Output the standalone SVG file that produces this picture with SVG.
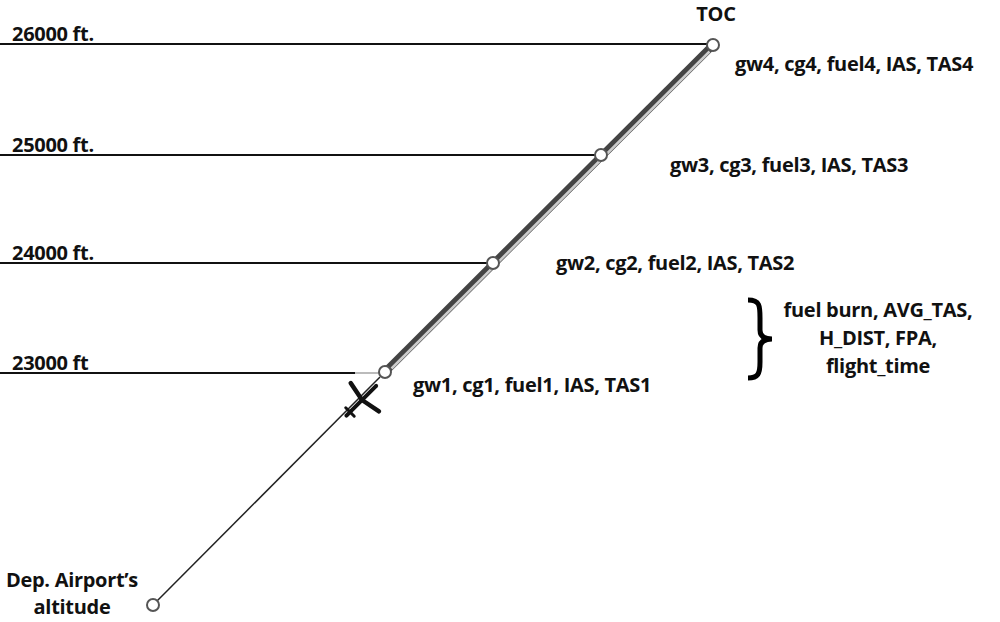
<svg xmlns="http://www.w3.org/2000/svg" width="1000" height="622" viewBox="0 0 1000 622">
<defs>
<style>
text{font-family:"Open Sans","Liberation Sans",sans-serif;font-weight:bold;font-size:20px;fill:#111;letter-spacing:-0.3px}
.h{stroke:#111;stroke-width:1.8}
.n{fill:#fff;stroke:#555;stroke-width:2}
.t{stroke:#444;stroke-width:8}
.hl{stroke:#ccc;stroke-width:2.5}
</style>
</defs>
<rect width="1000" height="622" fill="#fff"/>
<g id="connectors">
<line class="h" x1="0" y1="44" x2="707" y2="44"/>
<line class="h" x1="0" y1="155" x2="595" y2="155"/>
<line class="h" x1="0" y1="263" x2="487" y2="263"/>
<line class="h" x1="0" y1="373" x2="355" y2="373"/>
<line x1="355" y1="373" x2="380" y2="373" stroke="#bbb" stroke-width="2"/>
<line x1="157" y1="601" x2="380" y2="377" stroke="#222" stroke-width="1.5"/>
<line class="t" x1="388" y1="369" x2="710" y2="48"/>
<line class="hl" x1="390" y1="367" x2="708" y2="50" transform="translate(1.5,1.5)"/>
</g>
<g id="node-dep"><circle class="n" cx="153" cy="605" r="6"/></g>
<g id="node-23000"><circle class="n" cx="385" cy="372" r="6"/></g>
<g id="node-24000"><circle class="n" cx="493" cy="263" r="6"/></g>
<g id="node-25000"><circle class="n" cx="601" cy="155" r="6"/></g>
<g id="node-toc"><circle class="n" cx="713" cy="45" r="6"/></g>
<g id="airplane" transform="translate(362,400) rotate(-45)" fill="#111" stroke="#111" stroke-linecap="round">
<line x1="-22" y1="0" x2="20" y2="0" stroke-width="4"/>
<path d="M4,-20 L0,0 L4,20" fill="none" stroke-width="4.5"/>
<line x1="-17" y1="-6" x2="-17" y2="6" stroke-width="3"/>
</g>
<g id="labels">
<text x="12" y="41">26000 ft.</text>
<text x="12" y="152">25000 ft.</text>
<text x="12" y="260">24000 ft.</text>
<text x="12" y="370">23000 ft</text>
<text x="716" y="21" text-anchor="middle">TOC</text>
<text x="735" y="71">gw4, cg4, fuel4, IAS, TAS4</text>
<text x="670" y="172">gw3, cg3, fuel3, IAS, TAS3</text>
<text x="556" y="270">gw2, cg2, fuel2, IAS, TAS2</text>
<text x="413" y="392">gw1, cg1, fuel1, IAS, TAS1</text>
<text x="878" y="317" text-anchor="middle">fuel burn, AVG_TAS,</text>
<text x="878" y="345" text-anchor="middle">H_DIST, FPA,</text>
<text x="878" y="373" text-anchor="middle">flight_time</text>
<text x="72" y="587" text-anchor="middle">Dep. Airport’s</text>
<text x="72" y="614" text-anchor="middle">altitude</text>
</g>
<path id="brace" d="M748,300 C760,300 760,306 760,318 L760,330 C760,336 764,339 772,339 C764,339 760,342 760,348 L760,362 C760,374 758,378 748,378" fill="none" stroke="#000" stroke-width="5"/>
</svg>
